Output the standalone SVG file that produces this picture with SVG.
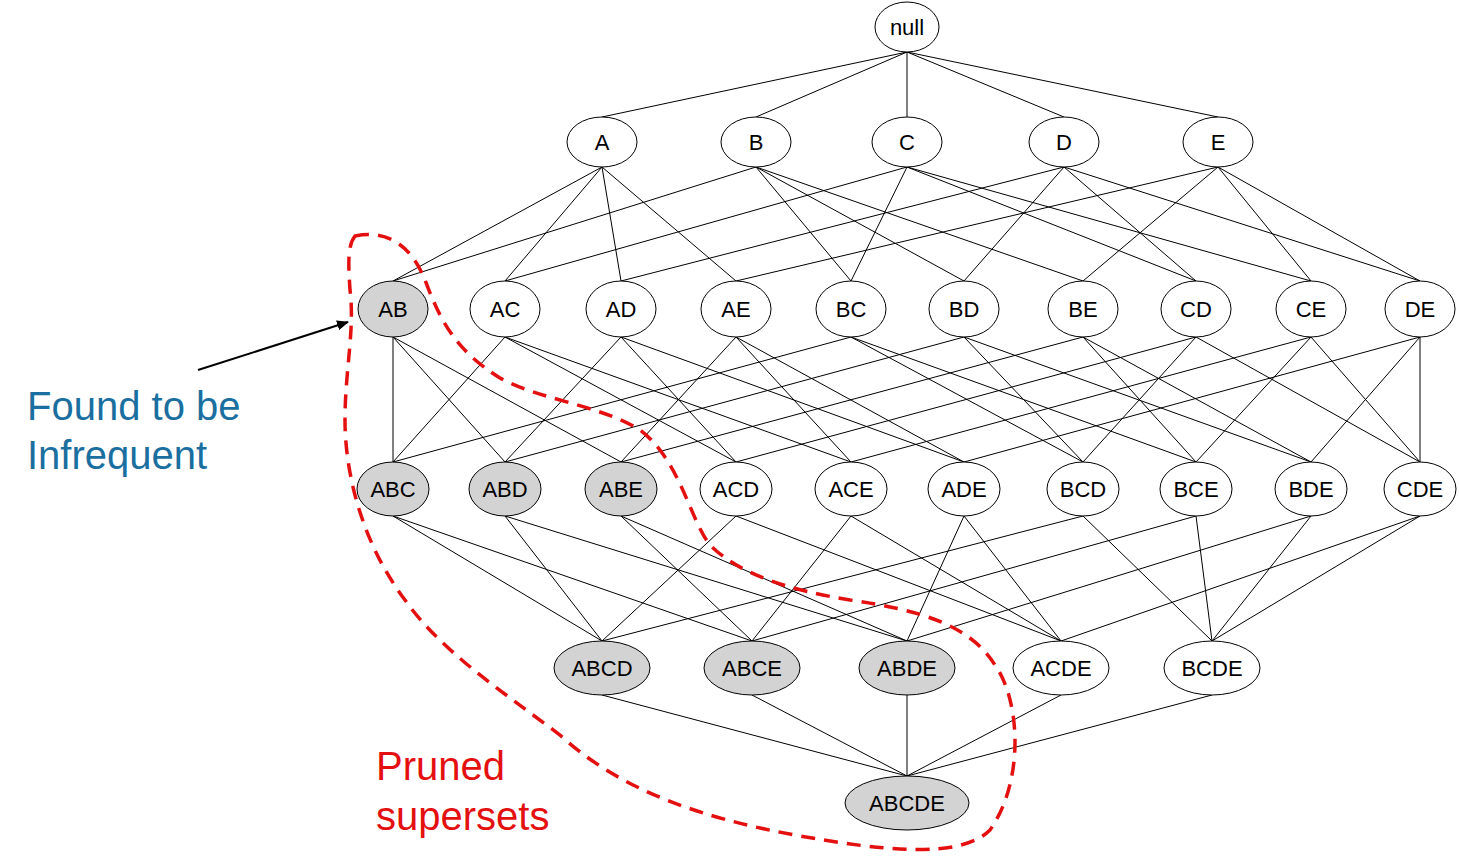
<svg xmlns="http://www.w3.org/2000/svg" width="1459" height="865" viewBox="0 0 1459 865">
<style>
.n ellipse{fill:#fff;stroke:#000;stroke-width:1}
.g ellipse{fill:#d3d3d3}
.n text{font-family:"Liberation Sans",Arial,sans-serif;font-size:22px;text-anchor:middle;dominant-baseline:central}
.e{stroke:#000;stroke-width:1;fill:none}
</style>
<defs><marker id="ah" markerWidth="12" markerHeight="10" refX="11" refY="5" orient="auto" markerUnits="userSpaceOnUse"><path d="M0,0 L12,5 L0,10 Z" fill="#000"/></marker></defs>
<rect width="1459" height="865" fill="#fff"/>
<g id="connectors">
<path class="e" d="M907,52L602,117M907,52L756,117M907,52L907,117M907,52L1064,117M907,52L1218,117
M602,167L393,281M602,167L505,281M602,167L621,281M602,167L736,281
M756,167L393,281M756,167L851,281M756,167L964,281M756,167L1083,281
M907,167L505,281M907,167L851,281M907,167L1196,281M907,167L1311,281
M1064,167L621,281M1064,167L964,281M1064,167L1196,281M1064,167L1420,281
M1218,167L736,281M1218,167L1083,281M1218,167L1311,281M1218,167L1420,281
M393,337L393,462M393,337L505,462M393,337L621,462
M505,337L393,462M505,337L736,462M505,337L851,462
M621,337L505,462M621,337L736,462M621,337L964,462
M736,337L621,462M736,337L851,462M736,337L964,462
M851,337L393,462M851,337L1083,462M851,337L1196,462
M964,337L505,462M964,337L1083,462M964,337L1311,462
M1083,337L621,462M1083,337L1196,462M1083,337L1311,462
M1196,337L736,462M1196,337L1083,462M1196,337L1420,462
M1311,337L851,462M1311,337L1196,462M1311,337L1420,462
M1420,337L964,462M1420,337L1311,462M1420,337L1420,462
M393,516L602,641M393,516L752,641
M505,516L602,641M505,516L907,641
M621,516L752,641M621,516L907,641
M736,516L602,641M736,516L1061,641
M851,516L752,641M851,516L1061,641
M964,516L907,641M964,516L1061,641
M1083,516L602,641M1083,516L1212,641
M1196,516L752,641M1196,516L1212,641
M1311,516L907,641M1311,516L1212,641
M1420,516L1061,641M1420,516L1212,641
M602,695L907,776M752,695L907,776M907,695L907,776M1061,695L907,776M1212,695L907,776"/>
<line x1="198" y1="370" x2="348" y2="322" stroke="#000" stroke-width="2" marker-end="url(#ah)"/>
</g>
<g id="null" class="n"><ellipse cx="907" cy="27" rx="32" ry="25"/><text x="907" y="27">null</text></g>
<g id="A" class="n"><ellipse cx="602" cy="142" rx="35" ry="25"/><text x="602" y="142">A</text></g>
<g id="B" class="n"><ellipse cx="756" cy="142" rx="35" ry="25"/><text x="756" y="142">B</text></g>
<g id="C" class="n"><ellipse cx="907" cy="142" rx="35" ry="25"/><text x="907" y="142">C</text></g>
<g id="D" class="n"><ellipse cx="1064" cy="142" rx="35" ry="25"/><text x="1064" y="142">D</text></g>
<g id="E" class="n"><ellipse cx="1218" cy="142" rx="35" ry="25"/><text x="1218" y="142">E</text></g>
<g id="AB" class="n g"><ellipse cx="393" cy="309" rx="35" ry="28"/><text x="393" y="309">AB</text></g>
<g id="AC" class="n"><ellipse cx="505" cy="309" rx="35" ry="28"/><text x="505" y="309">AC</text></g>
<g id="AD" class="n"><ellipse cx="621" cy="309" rx="35" ry="28"/><text x="621" y="309">AD</text></g>
<g id="AE" class="n"><ellipse cx="736" cy="309" rx="35" ry="28"/><text x="736" y="309">AE</text></g>
<g id="BC" class="n"><ellipse cx="851" cy="309" rx="35" ry="28"/><text x="851" y="309">BC</text></g>
<g id="BD" class="n"><ellipse cx="964" cy="309" rx="35" ry="28"/><text x="964" y="309">BD</text></g>
<g id="BE" class="n"><ellipse cx="1083" cy="309" rx="35" ry="28"/><text x="1083" y="309">BE</text></g>
<g id="CD" class="n"><ellipse cx="1196" cy="309" rx="35" ry="28"/><text x="1196" y="309">CD</text></g>
<g id="CE" class="n"><ellipse cx="1311" cy="309" rx="35" ry="28"/><text x="1311" y="309">CE</text></g>
<g id="DE" class="n"><ellipse cx="1420" cy="309" rx="35" ry="28"/><text x="1420" y="309">DE</text></g>
<g id="ABC" class="n g"><ellipse cx="393" cy="489" rx="36" ry="27"/><text x="393" y="489">ABC</text></g>
<g id="ABD" class="n g"><ellipse cx="505" cy="489" rx="36" ry="27"/><text x="505" y="489">ABD</text></g>
<g id="ABE" class="n g"><ellipse cx="621" cy="489" rx="36" ry="27"/><text x="621" y="489">ABE</text></g>
<g id="ACD" class="n"><ellipse cx="736" cy="489" rx="36" ry="27"/><text x="736" y="489">ACD</text></g>
<g id="ACE" class="n"><ellipse cx="851" cy="489" rx="36" ry="27"/><text x="851" y="489">ACE</text></g>
<g id="ADE" class="n"><ellipse cx="964" cy="489" rx="36" ry="27"/><text x="964" y="489">ADE</text></g>
<g id="BCD" class="n"><ellipse cx="1083" cy="489" rx="36" ry="27"/><text x="1083" y="489">BCD</text></g>
<g id="BCE" class="n"><ellipse cx="1196" cy="489" rx="36" ry="27"/><text x="1196" y="489">BCE</text></g>
<g id="BDE" class="n"><ellipse cx="1311" cy="489" rx="36" ry="27"/><text x="1311" y="489">BDE</text></g>
<g id="CDE" class="n"><ellipse cx="1420" cy="489" rx="36" ry="27"/><text x="1420" y="489">CDE</text></g>
<g id="ABCD" class="n g"><ellipse cx="602" cy="668" rx="48" ry="27"/><text x="602" y="668">ABCD</text></g>
<g id="ABCE" class="n g"><ellipse cx="752" cy="668" rx="48" ry="27"/><text x="752" y="668">ABCE</text></g>
<g id="ABDE" class="n g"><ellipse cx="907" cy="668" rx="48" ry="27"/><text x="907" y="668">ABDE</text></g>
<g id="ACDE" class="n"><ellipse cx="1061" cy="668" rx="48" ry="27"/><text x="1061" y="668">ACDE</text></g>
<g id="BCDE" class="n"><ellipse cx="1212" cy="668" rx="48" ry="27"/><text x="1212" y="668">BCDE</text></g>
<g id="ABCDE" class="n g"><ellipse cx="907" cy="803" rx="62" ry="27"/><text x="907" y="803">ABCDE</text></g>
<path d="M355,236 C395,228 415,255 425,280 C440,320 455,350 500,378 C540,400 600,405 640,430 C680,460 690,520 710,545 C740,575 790,590 850,600 C920,610 970,625 995,665 C1020,700 1025,780 990,830 C960,860 880,850 800,836 C700,818 620,790 560,735 C500,690 440,650 405,600 C360,540 345,470 345,420 C345,370 355,330 350,290 C348,260 348,245 355,236 Z" fill="none" stroke="#e41010" stroke-width="3.5" stroke-dasharray="14 9"/>
<g font-family="'Liberation Sans',Arial,sans-serif" font-size="40">
<text x="27" y="420" fill="#1a6fa0">Found to be</text>
<text x="27" y="469" fill="#1a6fa0">Infrequent</text>
<text x="376" y="780" fill="#e41010">Pruned</text>
<text x="376" y="830" fill="#e41010">supersets</text>
</g>
</svg>
